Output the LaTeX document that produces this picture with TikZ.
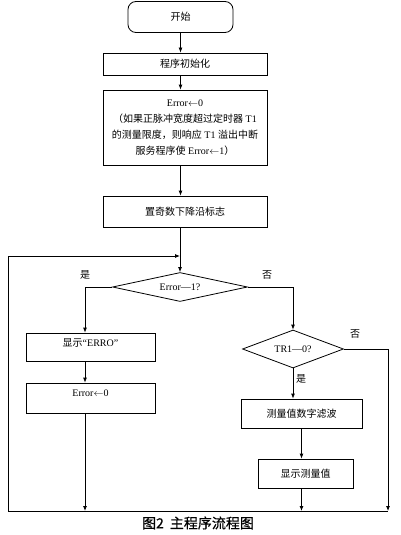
\documentclass[tikz,border=0pt]{standalone}
\usepackage{fontspec}
\setmainfont{Liberation Serif}
\newfontfamily\cjk{Noto Sans CJK SC}
\newfontfamily\cjkcap[FakeBold=0.6]{Noto Sans CJK SC}
\usetikzlibrary{shapes.geometric,arrows.meta}

\begin{document}
\begin{tikzpicture}[x=1pt,y=-1pt,line width=0.8pt,
  >={Latex[length=5pt,width=4pt]},
  every node/.style={font=\fontsize{10}{16}\selectfont},
  box/.style={draw,rectangle,inner sep=2pt,align=center},
  startbox/.style={box,rounded corners=8pt},
  decision/.style={draw,diamond,aspect=4,inner sep=1pt},
  tag/.style={font=\cjk\fontsize{10}{12}\selectfont}]
\useasboundingbox (0,0) rectangle (400,535);

% main column
\node[startbox,minimum width=105pt,minimum height=31pt] (start) at (180.5,17) {\cjk 开始};
\node[box,minimum width=164pt,minimum height=22pt] (init) at (185,64) {\cjk 程序初始化};
\node[box,minimum width=164pt,minimum height=75pt] (err) at (185,127.5)
  {Error$\leftarrow$0\\{\cjk （如果正脉冲宽度超过定时器} T1\\{\cjk 的测量限度，则响应} T1 {\cjk 溢出中断}\\{\cjk 服务程序使} Error$\leftarrow$1{\cjk ）}};
\node[box,minimum width=164pt,minimum height=31pt] (odd) at (185,211.5) {\cjk 置奇数下降沿标志};
\node[decision,minimum width=135pt,minimum height=29pt] (dec1) at (180,287) {Error—1?};

% left branch
\node[box,minimum width=129pt,minimum height=28pt,text depth=9pt] (errshow) at (90.5,347) {{\cjk 显示}“ERRO”};
\node[box,minimum width=129pt,minimum height=30pt,text depth=10pt] (errclr) at (90.5,398) {Error$\leftarrow$0};

% right branch
\node[decision,minimum width=101pt,minimum height=38pt] (dec2) at (293,349) {TR1—0?};
\node[box,minimum width=121pt,minimum height=29pt] (filter) at (301.5,413.5) {\cjk 测量值数字滤波};
\node[box,minimum width=95pt,minimum height=29pt] (show) at (305.5,473.5) {\cjk 显示测量值};

\coordinate (lcol) at (85,0);
\coordinate (join) at (180,256);
\coordinate (botL) at (8,511);
\coordinate (botR) at (388,511);

\draw[->] (start.south) -- (start.south |- init.north);
\draw[->] (start.south |- init.south) -- (start.south |- err.north);
\draw[->] (start.south |- err.south) -- (start.south |- odd.north);
\draw[->] (odd.south -| dec1.north) -- (dec1.north);

\draw[->] (dec1.west) -| (lcol |- errshow.north);
\draw[->] (lcol |- errshow.south) -- (lcol |- errclr.north);
\draw[->] (lcol |- errclr.south) -- (lcol |- botL);

\draw[->] (dec1.east) -| (dec2.north);
\draw[->] (dec2.south) -- (dec2.south |- filter.north);
\draw[->] (filter.south) -- (filter.south |- show.north);
\draw[->] (filter.south |- show.south) -- (filter.south |- botL);
\draw[->] (dec2.east) -| (botR);

% return loop
\draw (botL) -- (botR);
\draw[->] (botL) |- (join);

\node[tag] (yes1) at (85,275) {是};
\node[tag] (no1) at (267,275) {否};
\node[tag] (no2) at (355,334) {否};
\node[tag] (yes2) at (301,379) {是};

\node[font=\cjkcap\fontsize{14}{16}\selectfont] (caption) at (198,523) {图2\hspace{6pt}主程序流程图};
\end{tikzpicture}
\end{document}
